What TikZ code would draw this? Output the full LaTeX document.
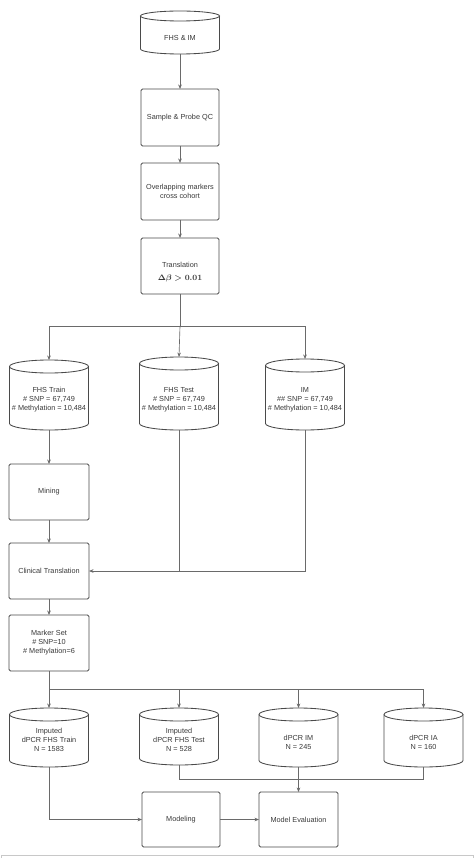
\documentclass[tikz,border=0pt]{standalone}
\usepackage{fontspec}
\setmainfont{Liberation Sans}
\usetikzlibrary{arrows.meta}
\definecolor{linec}{HTML}{4A4A4A}
\definecolor{connc}{HTML}{6A6A6A}
\definecolor{txtc}{HTML}{383838}
\definecolor{framec}{HTML}{C8C8C8}
\tikzset{
  shapeline/.style={draw=linec, line width=0.85pt},
  box/.style={draw=linec, line width=0.85pt, rounded corners=1.5pt, minimum width=78pt,
    inner sep=1pt, outer sep=0pt, align=center, font=\fontsize{7.3}{9}\selectfont, text=txtc},
  dbbox/.style={minimum width=79pt, inner sep=0pt, outer sep=0pt},
  txt/.style={align=center, font=\fontsize{7.3}{9}\selectfont, text=txtc, inner sep=0pt},
  conn/.style={draw=connc, line width=0.65pt},
  arr/.style={conn, -{Stealth[length=4.5pt,width=3.6pt]}},
}
\newcommand\dbnode[7]{%
  \node[dbbox, minimum height={(#4-#3)*1pt}] (#1) at (#2,{(#3+#4)/2}) {};
  \node[txt] (#1-t) at (#2,#6) {#7};
  \draw[shapeline] ([yshift=-#5pt]#1.north west) -- ([yshift=#5pt]#1.south west)
     arc[start angle=180,end angle=360,x radius=39.5pt,y radius=#5pt]
     -- ([yshift=-#5pt]#1.north east);
  \draw[shapeline] ([yshift=-#5pt]#1.north) ellipse[x radius=39.5pt,y radius=#5pt];
}
\begin{document}
\begin{tikzpicture}[x=1pt,y=-1pt]
\useasboundingbox (0,0) rectangle (474,858);
% top column
\dbnode{fhsim}{180}{11}{54}{5}{38}{FHS \& IM}
\node[box, minimum height=57pt] (qc) at (180,117.5) {Sample \& Probe QC};
\node[box, minimum height=57pt] (ovl) at (180,191.5) {Overlapping markers\\cross cohort};
\node[box, minimum height=56pt] (trans) at (180,266) {};
\node[txt] (transa) at (180,265) {Translation};
\node[txt] (transb) at (180,278.5) {{\fontsize{8}{9}\selectfont\boldmath$\Delta\beta > 0.01$}};
\draw[arr] (fhsim) -- (qc);
\draw[arr] (qc) -- (ovl);
\draw[arr] (ovl) -- (trans);
% first split
\coordinate (b1) at (180,326);
\dbnode{train}{49}{360}{430}{6.5}{400}{FHS Train\\\# SNP = 67,749\\\# Methylation = 10,484}
\dbnode{test}{179}{357}{430}{6.5}{400}{FHS Test\\\# SNP = 67,749\\\# Methylation = 10,484}
\dbnode{im}{305}{359}{430}{6.5}{400}{IM\\\#\# SNP = 67,749\\\# Methylation = 10,484}
\draw[conn] (trans.south) -- (b1);
\draw[arr] (b1) -| (train.north);
\draw[arr] (b1) -- (test.north);
\draw[arr] (b1) -| (im.north);
% left column
\node[box, minimum width=80pt, minimum height=56pt] (mining) at (49,492) {Mining};
\node[box, minimum width=80pt, minimum height=56pt] (clin) at (49,571) {Clinical Translation};
\node[box, minimum width=80pt, minimum height=56pt] (marker) at (49,643) {Marker Set\\\# SNP=10\\\# Methylation=6};
\draw[arr] (train.south) -- (mining.north);
\draw[arr] (mining.south) -- (clin.north);
\draw[arr] (im.south) |- (clin.east);
\draw[conn] (test.south) -- (test.south |- clin.east);
\draw[arr] (clin.south) -- (marker.north);
% second split
\coordinate (b2) at (49,689);
\dbnode{itrain}{49}{708}{767}{6.5}{739.5}{Imputed\\dPCR FHS Train\\N = 1583}
\dbnode{itest}{179}{708}{765}{6.5}{739.5}{Imputed\\dPCR FHS Test\\N = 528}
\dbnode{dim}{298.5}{708}{767}{6.5}{742.5}{dPCR IM\\N = 245}
\dbnode{dia}{423.5}{708}{767}{6.5}{742.5}{dPCR IA\\N = 160}
\draw[conn] (marker.south) -- (b2);
\draw[arr] (b2) -- (itrain.north);
\draw[arr] (b2) -| (itest.north);
\draw[arr] (b2) -| (dim.north);
\draw[arr] (b2) -| (dia.north);
% bottom
\node[box, minimum height=55pt] (model) at (181,819.5) {Modeling};
\node[box, minimum width=79pt, minimum height=55pt] (meval) at (298.5,819.5) {Model Evaluation};
\coordinate (j) at (298.5,779);
\draw[arr] (itrain.south) |- (model.west);
\draw[arr] (model.east) -- (meval.west);
\draw[arr] (dim.south) -- (meval.north);
\draw[conn] (itest.south) |- (j);
\draw[conn] (dia.south) |- (j);
% frame edge at bottom
\draw[framec, line width=0.8pt] (1,858) -- (1,855.5) -- (473,855.5) -- (473,858);
\end{tikzpicture}
\end{document}
